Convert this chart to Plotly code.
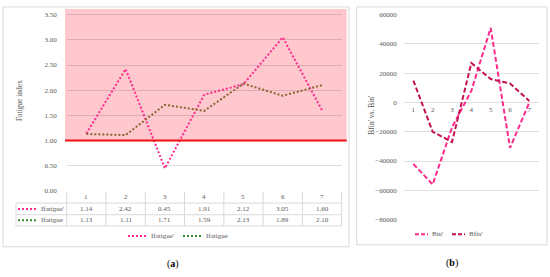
import plotly.graph_objects as go

# ---------------- data ----------------
categories = ["1", "2", "3", "4", "5", "6", "7"]
ifatigue_prime = [1.14, 2.42, 0.45, 1.91, 2.12, 3.05, 1.60]
ifatigue = [1.13, 1.11, 1.71, 1.59, 2.13, 1.89, 2.10]
bin_prime = [-42000, -56000, -17000, 8000, 51000, -31000, 0]
bfin_prime = [15000, -20000, -27000, 27000, 16000, 13000, 1000]
ya_ticks = [0, 0.5, 1.0, 1.5, 2.0, 2.5, 3.0, 3.5]
yb_ticks = [-80000, -60000, -40000, -20000, 0, 20000, 40000, 60000]
threshold = 1.0

W, H = 550, 277
def xp(px): return px / W
def yp(py): return 1 - py / H

FONT = "Liberation Serif"
PINK = "#ff2a8c"
BROWN = "#8a6530"
GREEN = "#2e8b2e"
BINC = "#ff2a8c"
BFINC = "#c4124f"
GRID = "rgba(0,0,0,0.13)"
LINEC = "#d9d9d9"
TXT = "#595959"

fig = go.Figure()

# ---- panel (a) lines
fig.add_trace(go.Scatter(x=categories, y=ifatigue_prime, mode="lines", name="Ifatigue'",
                         line=dict(color=PINK, width=2, dash="2px,2px"),
                         xaxis="x", yaxis="y", showlegend=False))
fig.add_trace(go.Scatter(x=categories, y=ifatigue, mode="lines", name="Ifatigue",
                         line=dict(color=BROWN, width=2, dash="2px,2px"),
                         xaxis="x", yaxis="y", showlegend=False))
# ---- panel (b) lines
fig.add_trace(go.Scatter(x=categories, y=bin_prime, mode="lines", name="Bin'",
                         line=dict(color=BINC, width=2, dash="5px,2.5px"),
                         xaxis="x2", yaxis="y2", showlegend=False))
fig.add_trace(go.Scatter(x=categories, y=bfin_prime, mode="lines", name="Bfin'",
                         line=dict(color=BFINC, width=2, dash="5px,2.5px"),
                         xaxis="x2", yaxis="y2", showlegend=False))

# axes geometry
a_left, a_right = 66.7, 341.7
a_top, a_bot = 5, 192.5
b_left, b_right = 403.7, 539.0
b_top, b_bot = 11, 222
ya_max = 3.5 + 6 / 52
yb_range = [-80000, 60000]
yb_dom = [yp(b_bot), yp(b_top)]
zero_pos = yb_dom[0] + (yb_dom[1] - yb_dom[0]) * (0 - yb_range[0]) / (yb_range[1] - yb_range[0])

fig.update_layout(
    width=W, height=H, margin=dict(l=0, r=0, t=0, b=0),
    paper_bgcolor="white", plot_bgcolor="rgba(0,0,0,0)",
    font=dict(family=FONT, size=7, color=TXT),
    xaxis=dict(domain=[xp(a_left), xp(a_right)], type="category", range=[-0.5, 6.5],
               showticklabels=False, showgrid=False, zeroline=False, showline=False, anchor="y"),
    yaxis=dict(domain=[yp(a_bot), yp(a_top)], range=[0, ya_max], tickvals=ya_ticks,
               tickformat=".2f", gridcolor=GRID, gridwidth=1, zeroline=False, showline=False,
               ticks="", ticklabelstandoff=9, tickfont=dict(size=7, color=TXT), anchor="x"),
    xaxis2=dict(domain=[xp(b_left), xp(b_right)], type="category", range=[-0.5, 6.5],
                anchor="free", position=zero_pos, showgrid=False, zeroline=False, showline=False,
                ticks="", ticklabelstandoff=2, tickfont=dict(size=7, color=TXT)),
    yaxis2=dict(domain=yb_dom, range=yb_range, tickvals=yb_ticks, tickformat="d",
                gridcolor=GRID, gridwidth=1, zeroline=False, showline=False, ticks="",
                ticklabelstandoff=6, tickfont=dict(size=7, color=TXT), anchor="x2"),
)

shapes = []
# frames
shapes.append(dict(type="rect", xref="paper", yref="paper", x0=xp(3), x1=xp(349), y0=yp(250), y1=yp(3),
                   line=dict(color=LINEC, width=1), layer="below"))
shapes.append(dict(type="rect", xref="paper", yref="paper", x0=xp(356.7), x1=xp(547), y0=yp(248), y1=yp(3),
                   line=dict(color=LINEC, width=1), layer="below"))
# pink zone above threshold
shapes.append(dict(type="rect", xref="paper", yref="y", x0=xp(65), x1=xp(346.7), y0=threshold, y1=ya_max,
                   fillcolor="#ffc7ce", line=dict(width=0), layer="below"))
# threshold line
shapes.append(dict(type="line", xref="paper", yref="y", x0=xp(65), x1=xp(346.7), y0=threshold, y1=threshold,
                   line=dict(color="#ee1111", width=2), layer="above"))

# data table
colw = (a_right - a_left) / 7
r0, r1, r2, r3 = 193, 205, 217, 228.5
for yy in (r1, r2, r3):
    shapes.append(dict(type="line", xref="paper", yref="paper", x0=xp(16), x1=xp(a_right), y0=yp(yy), y1=yp(yy),
                       line=dict(color=LINEC, width=1)))
shapes.append(dict(type="line", xref="paper", yref="paper", x0=xp(16), x1=xp(16), y0=yp(r1), y1=yp(r3),
                   line=dict(color=LINEC, width=1)))
for k in range(8):
    xx = a_left + k * colw
    shapes.append(dict(type="line", xref="paper", yref="paper", x0=xp(xx), x1=xp(xx), y0=yp(r0), y1=yp(r3),
                       line=dict(color=LINEC, width=1)))

# legend keys (table + bottom legends)
def key(x0, x1, y, color, dash):
    shapes.append(dict(type="line", xref="paper", yref="paper", x0=xp(x0), x1=xp(x1), y0=yp(y), y1=yp(y),
                       line=dict(color=color, width=2, dash=dash)))
key(18, 37, 211, PINK, "2px,2px")
key(18, 37, 222.7, GREEN, "2px,2px")
key(128, 148, 239, PINK, "2px,2px")
key(183, 203, 239, GREEN, "2px,2px")
key(415, 428, 237, BINC, "4px,2px")
key(452, 465, 237, BFINC, "4px,2px")

fig.update_layout(shapes=shapes)

ann = []
def txt(x, y, s, xanchor="left", size=7, color=TXT, xref="paper"):
    ann.append(dict(x=x, y=y, xref=xref, yref="paper", text=s, showarrow=False, xanchor=xanchor,
                    yanchor="middle", font=dict(family=FONT, size=size, color=color)))

for i, c in enumerate(categories):
    txt(i, yp(199), c, xanchor="center", xref="x")
    txt(i, yp(211), f"{ifatigue_prime[i]:.2f}", xanchor="center", xref="x")
    txt(i, yp(222.7), f"{ifatigue[i]:.2f}", xanchor="center", xref="x")
txt(xp(39), yp(211), "Ifatigue'")
txt(xp(39), yp(222.7), "Ifatigue")
txt(xp(149), yp(239), "Ifatigue'")
txt(xp(204), yp(239), "Ifatigue")
txt(xp(430), yp(237), "Bin'")
txt(xp(467), yp(237), "Bfin'")

ann.append(dict(x=xp(19), y=yp(100), xref="paper", yref="paper", text="Fatigue index", textangle=-90,
                showarrow=False, xanchor="center", yanchor="middle", font=dict(family=FONT, size=7.5, color=TXT)))
ann.append(dict(x=xp(372), y=yp(114), xref="paper", yref="paper", text="Bfin' vs. Bin'", textangle=-90,
                showarrow=False, xanchor="center", yanchor="middle", font=dict(family=FONT, size=7.5, color=TXT)))
ann.append(dict(x=xp(173), y=yp(268), xref="paper", yref="paper", text="(<b>a</b>)", showarrow=False,
                xanchor="center", yanchor="middle", font=dict(family=FONT, size=10, color="#000000")))
ann.append(dict(x=xp(452), y=yp(267), xref="paper", yref="paper", text="(<b>b</b>)", showarrow=False,
                xanchor="center", yanchor="middle", font=dict(family=FONT, size=10, color="#000000")))
fig.update_layout(annotations=ann)

fig.write_html("out.html", config={"displayModeBar": False},
               post_script="document.body.style.margin='0';document.body.style.overflow='hidden';")
